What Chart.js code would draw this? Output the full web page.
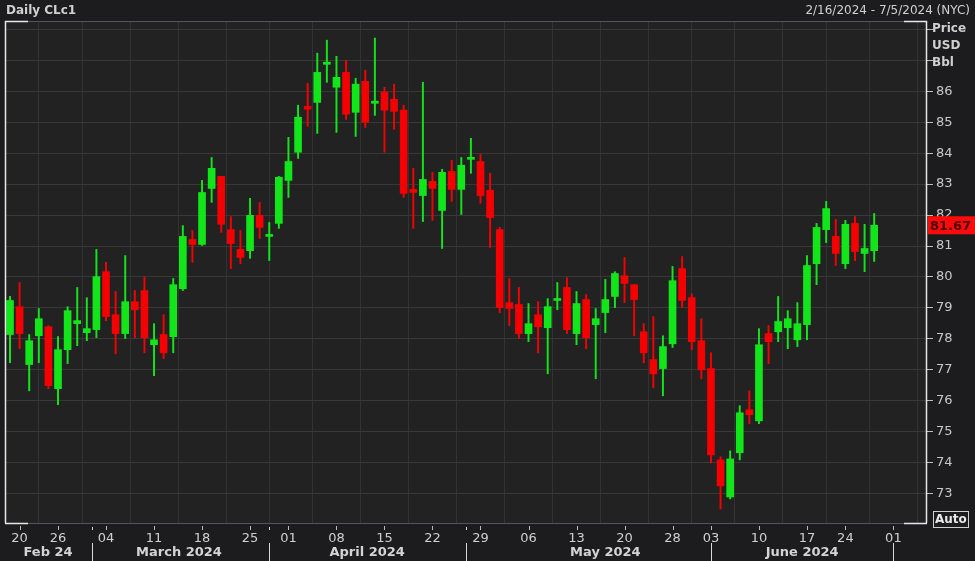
<!DOCTYPE html>
<html><head><meta charset="utf-8">
<script src="https://cdn.jsdelivr.net/npm/chart.js@4"></script>
<style>html,body{margin:0;padding:0;background:#1c1c1e;}#w{width:975px;height:561px;position:relative;}</style>
</head><body><div id="w"><canvas id="c"></canvas></div>
<script>
const openP  = [78.14,79.04,77.17,78.10,78.39,76.39,77.65,78.49,78.20,78.30,80.17,78.78,78.17,79.20,79.56,77.81,78.14,78.07,79.62,81.21,81.05,82.86,83.25,81.53,80.89,80.85,81.99,81.31,81.73,83.12,84.03,85.51,85.64,86.87,86.13,86.61,85.32,86.32,85.61,85.97,85.74,85.39,82.83,82.63,83.09,82.15,83.41,82.83,83.80,83.73,82.80,81.53,79.17,79.11,78.17,78.78,78.36,79.24,79.66,78.17,79.27,78.46,78.85,79.37,80.04,79.75,78.23,77.33,77.04,77.84,80.27,79.33,77.94,77.04,74.09,72.89,74.32,75.71,75.35,78.17,78.23,78.36,77.97,78.46,80.43,81.53,81.31,80.43,81.73,80.76,80.85];
const closeP = [79.24,78.17,77.94,78.65,76.49,77.65,78.91,78.59,78.33,80.01,78.72,78.17,79.20,78.94,78.04,77.97,77.55,79.75,81.31,81.05,82.73,83.51,81.70,81.08,80.63,81.99,81.60,81.37,83.22,83.73,85.16,85.42,86.61,86.94,86.45,85.26,86.23,85.00,85.68,85.39,85.35,82.70,82.73,83.15,82.86,83.38,82.83,83.61,83.86,82.63,81.92,79.01,78.98,78.17,78.49,78.39,79.04,79.30,78.30,79.14,78.04,78.65,79.27,80.11,79.79,79.27,77.55,76.87,77.75,79.88,79.24,77.91,77.00,74.25,73.25,74.12,75.61,75.55,77.81,77.91,78.56,78.65,78.49,80.37,81.60,82.21,80.76,81.70,80.82,80.92,81.67];
const highP  = [79.37,79.82,78.14,78.98,78.43,78.07,79.04,79.66,79.33,80.89,80.47,79.53,80.69,79.56,80.01,78.49,78.78,79.95,81.66,81.50,83.12,83.86,83.25,81.95,81.50,82.54,82.41,81.76,83.25,84.51,85.55,86.26,87.23,87.65,87.13,87.00,86.42,86.68,87.72,86.13,86.23,85.55,83.51,86.29,83.38,83.48,83.77,83.86,84.48,83.96,83.35,81.60,79.95,79.66,79.14,79.20,79.30,79.82,79.98,79.53,79.43,78.98,79.92,80.17,80.63,79.75,78.49,78.72,78.10,80.34,80.66,79.46,78.65,77.55,74.19,74.38,75.84,76.32,78.33,78.43,79.37,78.91,79.17,80.69,81.73,82.44,81.86,81.83,81.95,81.70,82.05];
const lowP   = [77.23,77.68,76.32,77.23,76.39,75.87,77.20,77.78,77.94,78.04,78.59,77.52,78.01,78.04,77.55,76.81,77.36,77.55,79.56,80.47,81.02,82.41,81.44,80.27,80.43,80.60,81.24,80.53,81.57,82.57,83.83,84.87,84.64,86.29,84.67,85.09,84.54,84.83,85.22,84.03,84.77,82.57,81.57,81.79,81.83,80.92,82.44,82.02,83.35,82.38,80.95,78.85,78.43,78.01,77.91,77.55,76.87,78.94,78.17,77.81,77.68,76.71,78.20,79.01,79.17,78.10,77.23,76.42,76.16,77.72,79.01,77.65,76.71,73.99,72.50,72.83,74.09,75.26,75.26,77.20,77.91,77.68,77.75,77.97,79.75,81.11,80.37,80.27,80.53,80.17,80.50];
const tickIdx    = [1,5,10,15,20,25,29,34,39,44,49,54,59,64,69,73,78,83,87,92];
const tickLabels = ["20","26","04","11","18","25","01","08","15","22","29","06","13","20","28","03","10","17","24","01"];
const monthLabels = ["Feb 24","March 2024","April 2024","May 2024","June 2024"];
const monthPos    = [3.96,17.6,37.2,62,82.5];
const monthSep    = [8.5,27,47.5,73,92];

const GREEN='#12e61a', RED='#f50000';
const idx = openP.map((_,i)=>i);
const col = idx.map(i=>closeP[i]>=openP[i]?GREEN:RED);

const deco = {
  id:'deco',
  beforeDraw(ch){
    const {ctx,chartArea:a}=ch;
    ctx.save();ctx.fillStyle='#222222';ctx.fillRect(a.left,a.top,a.right-a.left,a.bottom-a.top);ctx.restore();
  },
  afterDraw(ch){
    const {ctx,chartArea:a,scales:{x,y}}=ch;
    ctx.save();
    ctx.strokeStyle='#555';ctx.lineWidth=1;
    ctx.beginPath();ctx.moveTo(a.left,a.top+0.5);ctx.lineTo(a.right,a.top+0.5);
    ctx.moveTo(a.left,a.bottom+0.5);ctx.lineTo(a.right,a.bottom+0.5);ctx.stroke();
    ctx.strokeStyle='#e8e8e8';ctx.lineWidth=1.5;
    ctx.beginPath();
    ctx.moveTo(a.left+0.5,a.top);ctx.lineTo(a.left+0.5,a.bottom);
    ctx.moveTo(a.right-0.5,a.top);ctx.lineTo(a.right-0.5,a.bottom);
    ctx.moveTo(a.left,a.top+0.5);ctx.lineTo(a.left+23,a.top+0.5);
    ctx.moveTo(a.right,a.top+0.5);ctx.lineTo(a.right-23,a.top+0.5);
    ctx.moveTo(a.left,a.bottom+0.5);ctx.lineTo(a.left+23,a.bottom+0.5);
    ctx.moveTo(a.right,a.bottom+0.5);ctx.lineTo(a.right-23,a.bottom+0.5);
    ctx.stroke();
    ctx.strokeStyle='#d8d8d8';ctx.lineWidth=1;
    monthSep.forEach(m=>{const px=Math.round(x.getPixelForValue(m))+0.5;ctx.beginPath();ctx.moveTo(px,a.bottom+4);ctx.lineTo(px,a.bottom+7);ctx.moveTo(px,a.bottom+20);ctx.lineTo(px,561);ctx.stroke();});
    ctx.fillStyle='#d4d4d4';ctx.font='bold 13px "DejaVu Sans"';ctx.textAlign='center';ctx.textBaseline='middle';
    monthLabels.forEach((t,i)=>ctx.fillText(t,x.getPixelForValue(monthPos[i]),553));
    ctx.strokeStyle='#bbb';
    tickIdx.forEach(v=>{const px=Math.round(x.getPixelForValue(v))+0.5;ctx.beginPath();ctx.moveTo(px,a.bottom+3);ctx.lineTo(px,a.bottom+7);ctx.stroke();});
    ctx.textAlign='left';ctx.font='bold 12px "DejaVu Sans"';ctx.fillStyle='#d0d0d0';ctx.fillText('Daily CLc1',6,11);
    ctx.textAlign='right';ctx.font='12px "DejaVu Sans"';ctx.fillText('2/16/2024 - 7/5/2024 (NYC)',970,11);
    ctx.textAlign='left';ctx.font='bold 12px "DejaVu Sans"';
    ['Price','USD','Bbl'].forEach((t,i)=>ctx.fillText(t,932,29+i*17));
    const last=closeP[closeP.length-1];const py=y.getPixelForValue(last);
    ctx.fillStyle='#ff0a0a';ctx.fillRect(928,py-9,47,18);
    ctx.fillStyle='#4a0000';ctx.font='bold 13px "DejaVu Sans"';ctx.fillText(last.toFixed(2),930,py+1);
    ctx.strokeStyle='#cfcfcf';ctx.strokeRect(933.5,511.5,35,16);
    ctx.fillStyle='#e8e8e8';ctx.font='bold 12px "DejaVu Sans"';ctx.fillText('Auto',935,520);
    ctx.restore();
  }
};

new Chart(document.getElementById('c'),{
  type:'bar',
  data:{datasets:[
    {label:'Wick',data:idx.map(i=>({x:i,y:[lowP[i],highP[i]]})),backgroundColor:col,barThickness:1.3,grouped:false,order:2},
    {label:'Body',data:idx.map(i=>({x:i,y:[openP[i],closeP[i]]})),backgroundColor:col,barThickness:7,minBarLength:2,grouped:false,order:1}
  ]},
  plugins:[deco],
  options:{
    responsive:true,maintainAspectRatio:false,animation:false,
    layout:{padding:{left:5,top:21,right:0,bottom:0}},
    plugins:{legend:{display:false},tooltip:{enabled:false}},
    scales:{
      x:{type:'linear',min:-0.52,max:95.5,offset:false,
        afterBuildTicks:s=>{s.ticks=tickIdx.map(v=>({value:v}));},
        afterFit:s=>{s.height=38;},
        ticks:{autoSkip:false,maxRotation:0,color:'#d0d0d0',font:{family:'DejaVu Sans',size:13},padding:8,
          callback:(v,i)=>tickLabels[i]},
        grid:{color:'#333333',drawTicks:false},border:{display:false}},
      y:{position:'right',min:72.05,max:88.27,
        afterBuildTicks:s=>{const t=[];for(let v=73;v<=88;v++)t.push({value:v});s.ticks=t;},
        afterFit:s=>{s.width=48;},
        ticks:{color:'#c8c8c8',font:{family:'DejaVu Sans',size:13},padding:3,callback:v=>v<=86?String(v):''},
        grid:{color:'#383838',tickColor:'#bbb',tickLength:6},border:{display:false}}
    }
  }
});
</script></body></html>
